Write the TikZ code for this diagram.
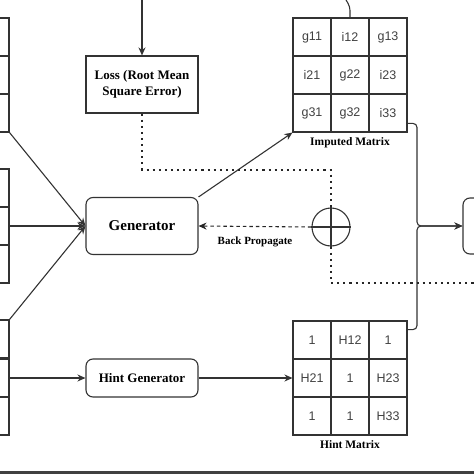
\documentclass[tikz,border=0pt]{standalone}
\usepackage{fontspec}
\setmainfont{Liberation Serif}
\newfontfamily\cellfont{Liberation Sans}
\usetikzlibrary{arrows.meta,positioning}
\tikzset{
  line/.style={draw=black!80, line width=1.1pt},
  conn/.style={line, -{Stealth[length=8pt,width=7pt]}},
  dotline/.style={draw=black!85, line width=2.1pt, dash pattern=on 2.1pt off 4pt},
  dashline/.style={draw=black!85, line width=1.1pt, dash pattern=on 3.5pt off 3pt, -{Stealth[length=8pt,width=7pt]}},
  box/.style={line, minimum width=112pt, minimum height=57pt, inner sep=2pt, align=center, font=\bfseries\fontsize{13}{16}\selectfont},
  cell/.style={line, minimum size=38pt, inner sep=0pt, text=black!75, font=\cellfont\fontsize{12.5}{14}\selectfont},
  lbl/.style={inner sep=1pt, font=\bfseries\fontsize{11.5}{13}\selectfont},
}
\begin{document}
\begin{tikzpicture}[x=1pt,y=-1pt]
	\useasboundingbox (0,0) rectangle (474,474);
	\clip (0,0) rectangle (474,474);
	% input columns on the left
	\foreach \k/\y in {1/37,2/75,3/113,4/188,5/226,6/264,7/339,8/378,9/416}
		\node[cell] (in\k) at (-10,\y) {};
	% boxes
	\node[box] (loss) at (142,84.5) {Loss (Root Mean\\Square Error)};
	\node[box, rounded corners=7pt, font=\bfseries\fontsize{15}{17}\selectfont] (gen) at (142,226) {Generator};
	\node[box, rounded corners=7pt, minimum height=38pt] (hint) at (142,378) {Hint Generator};
	\node[box, rounded corners=7pt, minimum width=74pt, minimum height=56pt] (disc) at (500,226) {};
	\node[line, circle, minimum size=38pt, inner sep=0pt] (sum) at (331,227) {};
	\draw[line] (sum.north) -- (sum.south);
	\draw[line] (sum.west) -- (sum.east);
	% matrices
	\foreach \r/\a/\b/\c in {1/g11/i12/g13,2/i21/g22/i23,3/g31/g32/i33}{
		\node[cell] (im\r1) at (312,{38*\r-1}) {\a};
		\node[cell] (im\r2) at (350,{38*\r-1}) {\b};
		\node[cell] (im\r3) at (388,{38*\r-1}) {\c};
	}
	\foreach \r/\a/\b/\c in {1/1/H12/1,2/H21/1/H23,3/1/1/H33}{
		\node[cell] (hm\r1) at (312,{38*\r+302}) {\a};
		\node[cell] (hm\r2) at (350,{38*\r+302}) {\b};
		\node[cell] (hm\r3) at (388,{38*\r+302}) {\c};
	}
	\node[lbl, below=3.5pt of im32] (imlbl) {Imputed Matrix};
	\node[lbl, below=3.5pt of hm32] (hmlbl) {Hint Matrix};
	% free ends and bends
	\coordinate (lossin) at (142,0);
	\coordinate (imtop) at (346,0);
	\coordinate (c1) at (331,170);
	\coordinate (c2) at (474,283);
	\coordinate (j) at (417,226);
	% connectors
	\draw[conn] (lossin) -- (loss.north);
	\draw[line, rounded corners=4pt] (im12.north) -- ++(0,-11) -- (imtop);
	\draw[conn] (in3.south east) -- (gen.west);
	\draw[conn] (in5.east) -- (gen.west);
	\draw[conn] (in7.north east) -- (gen.west);
	\draw[conn] (in8.east) -- (hint.west);
	\draw[conn] (hint.east) -- (hm21.west);
	\draw[conn] (gen.north east) -- (im31.south west);
	\draw[conn, rounded corners=4pt] (im33.-28) -| (j) -- (disc.west);
	\draw[conn, rounded corners=4pt] (hm13.28) -| (j) -- (disc.west);
	\draw[dotline] (loss.south) |- (c1) -- (sum.north);
	\draw[dotline] (sum.south) |- (c2);
	\draw[dashline] (sum.west) -- (gen.east) node[midway, below=9pt, lbl, font=\bfseries\fontsize{11}{13}\selectfont] (bp) {Back Propagate};
	% bottom rule
	\draw[line width=3pt, black!75] (0,472.5) -- (474,472.5);
\end{tikzpicture}
\end{document}
